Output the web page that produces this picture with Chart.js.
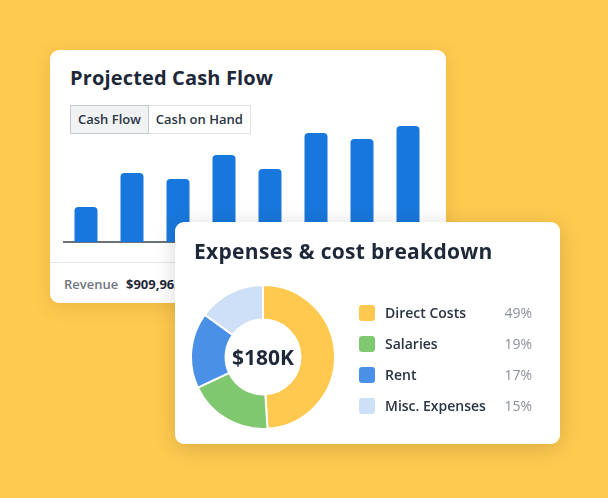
<!DOCTYPE html>
<html>
<head>
<meta charset="utf-8">
<script src="https://cdn.jsdelivr.net/npm/chart.js@4.4.1/dist/chart.umd.min.js"></script>
<style>
  html, body { margin: 0; padding: 0; }
  body {
    width: 608px; height: 498px; overflow: hidden; position: relative;
    background: #ffca50;
    font-family: "Open Sans", Lato, sans-serif;
    color: #1f2937;
  }
  .card {
    position: absolute; background: #fff; border-radius: 9px;
    box-shadow: 0 4px 18px rgba(120, 80, 0, 0.16);
    overflow: hidden;
  }
  #cashCard { left: 50px; top: 50px; width: 396px; height: 253px; z-index: 1; }
  #expCard { left: 175px; top: 222px; width: 385px; height: 222px; z-index: 2;
    box-shadow: 0 4px 22px rgba(0, 0, 0, 0.16); }
  .title { position: absolute; font-weight: 700; line-height: 1; white-space: nowrap; color: #1e2838; }
  #cashCard .title { left: 20px; top: 18px; font-size: 20px; letter-spacing: 0.15px; }
  #expCard .title { left: 19px; top: 19px; font-size: 21px; letter-spacing: 0.3px; }
  .toggle { position: absolute; left: 20px; top: 55px; display: flex; }
  .toggle div {
    height: 27px; line-height: 27px; font-size: 13px; font-weight: 600;
    color: #2b3443; padding: 0 7px; border: 1px solid #dfe2e6; background: #fff;
  }
  .toggle div.on { background: #f1f2f4; border-color: #c6cad0; }
  .toggle div + div { border-left: none; }
  #barCanvas { position: absolute; left: 13px; top: 72px; }
  .divider { position: absolute; left: 0; right: 0; top: 212px; height: 1px; background: #e4e6ea; }
  .rev { position: absolute; top: 226px; font-size: 13px; line-height: 16px; white-space: nowrap; }
  .rev.lbl { left: 14px; color: #6f7680; font-weight: 600; }
  .rev.val { left: 76px; color: #1e2838; font-weight: 700; }
  #donutCanvas { position: absolute; left: 15px; top: 62px; }
  .center { position: absolute; left: 15px; top: 62px; width: 146px; height: 146px;
    display: flex; align-items: center; justify-content: center;
    font-size: 21px; font-weight: 700; color: #1e2838; }
  .legend { position: absolute; left: 184px; top: 80px; width: 173px; }
  .row { position: relative; height: 31px; font-size: 14px; }
  .sw { position: absolute; left: 0; top: 3px; width: 16px; height: 16px; border-radius: 3px; }
  .name { position: absolute; left: 26px; top: 1px; line-height: 20px; color: #2a3342; font-weight: 600; white-space: nowrap; }
  .pct { position: absolute; right: 0; top: 1px; line-height: 20px; color: #8a9099; }
</style>
</head>
<body>
<div class="card" id="cashCard">
  <div class="title">Projected Cash Flow</div>
  <div class="toggle"><div class="on">Cash Flow</div><div>Cash on Hand</div></div>
  <canvas id="barCanvas" width="368" height="122"></canvas>
  <div class="divider"></div>
  <div class="rev lbl">Revenue</div>
  <div class="rev val" id="revenue"></div>
</div>
<div class="card" id="expCard">
  <div class="title">Expenses &amp; cost breakdown</div>
  <canvas id="donutCanvas" width="146" height="146"></canvas>
  <div class="center" id="total"></div>
  <div class="legend" id="legend"></div>
</div>
<script>
// bar chart data (relative heights)
const periods = ['Jan', 'Feb', 'Mar', 'Apr', 'May', 'Jun', 'Jul', 'Aug'];
const cashFlow = [35, 69, 63, 87, 73, 109, 103, 116];
const revenueTotal = '$909,962';

// doughnut data
const expenseLabels = ['Direct Costs', 'Salaries', 'Rent', 'Misc. Expenses'];
const expenseShares = [49, 19, 17, 15];
const expenseTotal = '$180K';
const expenseColors = ['#ffc94f', '#80c86f', '#4a90e6', '#cde0f7'];

document.getElementById('revenue').textContent = revenueTotal;
document.getElementById('total').textContent = expenseTotal;

const legendEl = document.getElementById('legend');
expenseLabels.forEach((name, i) => {
  const row = document.createElement('div');
  row.className = 'row';
  row.innerHTML = '<span class="sw" style="background:' + expenseColors[i] + '"></span>' +
    '<span class="name">' + name + '</span><span class="pct">' + expenseShares[i] + '%</span>';
  legendEl.appendChild(row);
});

new Chart(document.getElementById('barCanvas').getContext('2d'), {
  type: 'bar',
  data: {
    labels: periods,
    datasets: [{
      label: 'Cash Flow',
      data: cashFlow,
      backgroundColor: '#1877dc',
      borderRadius: { topLeft: 4, topRight: 4 },
      borderSkipped: 'bottom',
      barPercentage: 0.5,
      categoryPercentage: 1
    }]
  },
  options: {
    responsive: false,
    animation: false,
    layout: { padding: { left: 0, right: 0, top: 0, bottom: 2 } },
    plugins: { legend: { display: false }, tooltip: { enabled: false } },
    scales: {
      x: {
        grid: { display: false, drawTicks: false },
        ticks: { display: false },
        border: { display: true, color: '#6b7079', width: 2 }
      },
      y: { display: false, min: 0, max: 120 }
    }
  }
});

new Chart(document.getElementById('donutCanvas').getContext('2d'), {
  type: 'doughnut',
  data: {
    labels: expenseLabels,
    datasets: [{
      data: expenseShares,
      backgroundColor: expenseColors,
      borderColor: '#ffffff',
      borderWidth: 2
    }]
  },
  options: {
    responsive: false,
    animation: false,
    cutout: '52%',
    plugins: { legend: { display: false }, tooltip: { enabled: false } }
  }
});
</script>
</body>
</html>
